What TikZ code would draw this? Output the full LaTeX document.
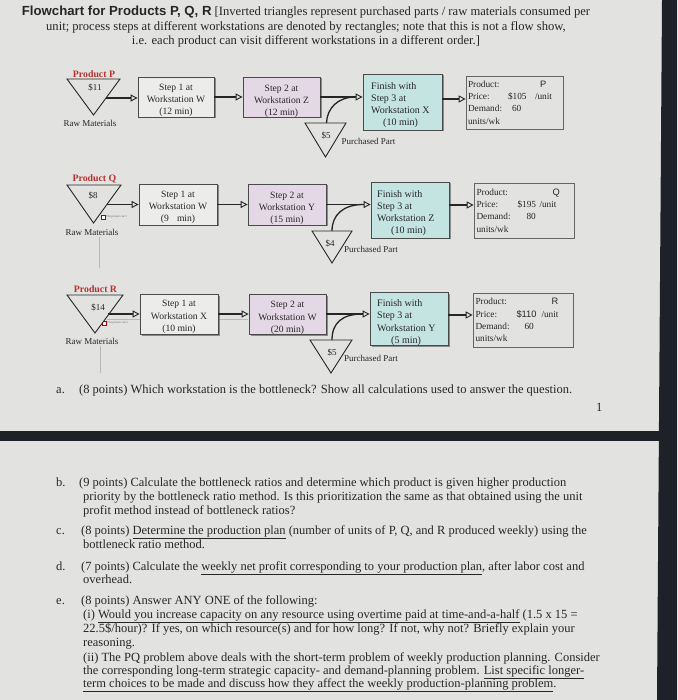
\documentclass[tikz,border=0pt]{standalone}
\usepackage{fontspec}
\setmainfont{Liberation Serif}
\newfontfamily\arialf{Liberation Sans}
\usetikzlibrary{arrows.meta,shadows,calc}
\definecolor{bg}{HTML}{E2E2E0}
\definecolor{edge}{HTML}{4A4A4A}
\definecolor{stepfill}{HTML}{ECECEA}
\definecolor{pinkfill}{HTML}{E5D8E6}
\definecolor{cyanfill}{HTML}{C4E4E2}
\definecolor{redlab}{HTML}{B8312F}
\definecolor{ink}{HTML}{262626}
\definecolor{darkband}{HTML}{1E2127}
\begin{document}
\begin{tikzpicture}[x=1pt,y=-1pt,
  wbox/.style={draw=edge, line width=0.8pt, inner sep=0pt,
    drop shadow={shadow xshift=1.5pt, shadow yshift=-1.5pt, fill=black!60, opacity=0.7}},
  stepbox/.style={wbox, fill=stepfill},
  steptwobox/.style={wbox, fill=pinkfill},
  finbox/.style={wbox, fill=cyanfill},
  prodbox/.style={draw=edge!85, line width=0.7pt, fill=bg, align=left, inner xsep=2pt,
    inner ysep=0pt, font=\fontsize{9.3}{12.3}\selectfont, text=ink},
  boxtext/.style={align=center, font=\fontsize{9.6}{12.3}\selectfont, text=ink, inner sep=0pt},
  fintext/.style={align=left, anchor=west, font=\fontsize{10}{12.2}\selectfont, text=ink, inner sep=0pt},
  tri/.style={draw=ink, line width=0.9pt, fill=bg, line join=miter},
  flow/.style={draw=ink, line width=1.6pt, -{Triangle[open, length=7pt, width=7pt, line width=0.9pt]}},
  curveline/.style={draw=ink, line width=1.3pt},
  smalltext/.style={font=\fontsize{9}{10}\selectfont, text=ink, inner sep=0pt},
  prodlab/.style={font=\bfseries\fontsize{9.8}{10}\selectfont, text=redlab, inner sep=0pt},
  qline/.style={anchor=base west, inner sep=0pt, font=\fontsize{12.5}{14}\selectfont, text=ink},
  tline/.style={anchor=base, inner sep=0pt, font=\fontsize{12.6}{14}\selectfont, text=ink},
  faint/.style={draw=black!28, line width=0.4pt},
  tiny/.style={font=\fontsize{3}{3}\selectfont, text=black!60, inner sep=0pt, anchor=west},
  icon/.style={draw=red!70!black, line width=0.3pt, fill=white, minimum size=3.5pt, inner sep=0pt},
]
% page and background
\fill[bg] (0,0) rectangle (677,700);
\useasboundingbox (0,0) rectangle (677,700);
\fill[darkband] (0,431) rectangle (661,441);
\fill[darkband] (662,0) -- (677,0) -- (677,700) -- (657,700) -- cycle;

% title
\node[tline] (title1) at (306,16)
  {{\arialf\bfseries\fontsize{13.2}{14}\selectfont Flowchart for Products P, Q, R} [Inverted triangles represent purchased parts / raw materials consumed per};
\node[tline] (title2) at (306,30.5)
  {unit; process steps at different workstations are denoted by rectangles; note that this is not a flow show,};
\node[tline] (title3) at (306,45)
  {i.e. each product can visit different workstations in a different order.]};

% faint artefacts
\draw[faint] (99,237) -- (99,268);
\draw[faint] (100,346) -- (100,373);
\draw[faint] (107,319) -- (248,319);
\node[icon] (icQ) at (103,217) {};
\node[tiny] (phQ) at (106,217) {The picture can't};
\node[icon] (icR) at (104,323) {};
\node[tiny] (phR) at (107,323) {The picture can't};

% ---------------- Product P ----------------
\node[prodlab] (labP) at (94,74) {Product P};
\draw[tri] (67,79) -- (120,79) -- (93.5,115) -- cycle;
\node[smalltext] (cP) at (95,88) {\$11};
\node[smalltext] (rmP) at (90,123) {Raw Materials};
\coordinate (oP) at (106,98);
\node[stepbox, minimum width=76pt, minimum height=40pt] (s1P) at (176,97) {};
\node[boxtext] (t1P) at (176,100.5) {Step 1 at\\Workstation W\\(12 min)};
\node[steptwobox, minimum width=77pt, minimum height=40pt] (s2P) at (281.5,97) {};
\node[boxtext] (t2P) at (281.5,101.5) {Step 2 at\\Workstation Z\\(12 min)};
\node[finbox, minimum width=79pt, minimum height=56pt] (fP) at (402.5,102) {};
\node[fintext] (tfP) at (371,105) {Finish with\\Step 3 at\\Workstation X\\\hspace*{12pt}(10 min)};
\node[prodbox, text width=93pt, minimum height=53pt] (pP) at (514.5,102.5)
  {\makebox[72pt][l]{Product:}{\arialf P}\\
   \makebox[40pt][l]{Price:}\makebox[27pt][l]{\$105}/unit\\
   \makebox[44pt][l]{Demand:}60\\
   units/wk};
\draw[tri] (305,123) -- (346,123) -- (325.5,157) -- cycle;
\coordinate (ppP) at (326.5,123);
\node[smalltext] (cpP) at (326,136) {\$5};
\node[smalltext] (ptP) at (368.5,141) {Purchased Part};
\draw[flow] (oP) -- (oP -| s1P.west);
\draw[flow] (s1P) -- (s2P);
\draw[flow] (s2P.east) -- (s2P.east -| fP.west);
\draw[curveline] (ppP) .. controls (327,108) and (338,97) .. ($(s2P.east -| fP.west)+(-7,0)$);
\draw[flow] ($(fP.east)+(0,-3)$) -- ($(fP.east -| pP.west)+(0,-3)$);

% ---------------- Product Q ----------------
\node[prodlab] (labQ) at (94.5,179) {Product Q};
\draw[tri] (67,185) -- (121,185) -- (93.5,223) -- cycle;
\node[smalltext] (cQ) at (93,196) {\$8};
\node[smalltext] (rmQ) at (92,232) {Raw Materials};
\coordinate (oQ) at (107,204.5);
\node[stepbox, minimum width=78pt, minimum height=41pt] (s1Q) at (178,204.5) {};
\node[boxtext] (t1Q) at (178,207.5) {Step 1 at\\Workstation W\\(9\hspace{0.6em} min)};
\node[steptwobox, minimum width=78pt, minimum height=41pt] (s2Q) at (287,204.5) {};
\node[boxtext] (t2Q) at (287,208.5) {Step 2 at\\Workstation Y\\(15 min)};
\node[finbox, minimum width=78pt, minimum height=56pt] (fQ) at (410,210) {};
\node[fintext] (tfQ) at (377,213) {Finish with\\Step 3 at\\Workstation Z\\\hspace*{14pt}(10 min)};
\node[prodbox, text width=95pt, inner xsep=2.5pt, minimum height=55pt] (pQ) at (524,210.5)
  {\makebox[76pt][l]{Product:}{\arialf Q}\\
   \makebox[41pt][l]{Price:}\makebox[22pt][l]{\$195}/unit\\
   \makebox[50pt][l]{Demand:}80\\
   units/wk};
\draw[tri] (312,231) -- (352,231) -- (332,263) -- cycle;
\coordinate (ppQ) at (332,231);
\node[smalltext] (cpQ) at (330,244) {\$4};
\node[smalltext] (ptQ) at (371,249) {Purchased Part};
\draw[flow] (oQ) -- (oQ -| s1Q.west);
\draw[flow] (s1Q) -- (s2Q);
\draw[flow] (s2Q.east) -- (s2Q.east -| fQ.west);
\draw[curveline] (ppQ) .. controls (332,215) and (343,204.5) .. ($(s2Q.east -| fQ.west)+(-7,0)$);
\draw[flow] ($(fQ.east)+(0,-5)$) -- ($(fQ.east -| pQ.west)+(0,-5)$);

% ---------------- Product R ----------------
\node[prodlab] (labR) at (95.5,289) {Product R};
\draw[tri] (67,295) -- (123,295) -- (95,333) -- cycle;
\node[smalltext] (cR) at (98,308) {\$14};
\node[smalltext] (rmR) at (92,341) {Raw Materials};
\coordinate (oR) at (108,314);
\node[stepbox, minimum width=78pt, minimum height=40pt] (s1R) at (179,314) {};
\node[boxtext] (t1R) at (179,317) {Step 1 at\\Workstation X\\(10 min)};
\node[steptwobox, minimum width=77pt, minimum height=40pt] (s2R) at (287.5,314) {};
\node[boxtext] (t2R) at (287.5,318) {Step 2 at\\Workstation W\\(20 min)};
\node[finbox, minimum width=78pt, minimum height=53pt] (fR) at (409,318.5) {};
\node[fintext] (tfR) at (377,322.5) {Finish with\\Step 3 at\\Workstation Y\\\hspace*{14pt}(5 min)};
\node[prodbox, text width=95pt, inner xsep=2.5pt, minimum height=54pt] (pR) at (523,320)
  {\makebox[76pt][l]{Product:}{\arialf R}\\
   \makebox[41pt][l]{Price:}\makebox[25pt][l]{\arialf\$110}/unit\\
   \makebox[49pt][l]{Demand:}60\\
   units/wk};
\draw[tri] (310,340) -- (352,340) -- (331,373) -- cycle;
\coordinate (ppR) at (332,340);
\node[smalltext] (cpR) at (332,353) {\$5};
\node[smalltext] (ptR) at (371,358) {Purchased Part};
\draw[flow] (oR) -- (oR -| s1R.west);
\draw[flow] (s1R) -- (s2R);
\draw[flow] (s2R.east) -- (s2R.east -| fR.west);
\draw[curveline] (ppR) .. controls (332,323) and (342,314) .. ($(s2R.east -| fR.west)+(-7,0)$);
\draw[flow] ($(fR.east)+(0,-3.5)$) -- ($(fR.east -| pR.west)+(0,-3.5)$);

% ---------------- Questions ----------------
\node[qline] (qa) at (56,393) {a.};
\node[qline] (qat) at (79,393) {(8 points) Which workstation is the bottleneck? Show all calculations used to answer the question.};
\node[qline] (pg) at (596,411) {1};

\node[qline] (qb) at (56,486) {b.};
\node[qline] (qb1) at (79,486) {(9 points) Calculate the bottleneck ratios and determine which product is given higher production};
\node[qline] (qb2) at (83,500) {priority by the bottleneck ratio method. Is this prioritization the same as that obtained using the unit};
\node[qline] (qb3) at (83,514) {profit method instead of bottleneck ratios?};

\node[qline] (qc) at (56,534) {c.};
\node[qline] (qc1) at (81,534) {(8 points) \underline{Determine the production plan} (number of units of P, Q, and R produced weekly) using the};
\node[qline] (qc2) at (83,548) {bottleneck ratio method.};

\node[qline] (qd) at (56,570) {d.};
\node[qline] (qd1) at (81,570) {(7 points) Calculate the \underline{weekly net profit corresponding to your production plan}, after labor cost and};
\node[qline] (qd2) at (83,583) {overhead.};

\node[qline] (qe) at (56,604) {e.};
\node[qline] (qe1) at (81,604) {(8 points) Answer ANY ONE of the following:};
\node[qline] (qe2) at (83,618) {(i) \underline{Would you increase capacity on any resource using overtime paid at time-and-a-half} (1.5 x 15 =};
\node[qline] (qe3) at (83,632) {22.5\$/hour)? If yes, on which resource(s) and for how long? If not, why not? Briefly explain your};
\node[qline] (qe4) at (83,646) {reasoning.};
\node[qline] (qe5) at (83,661) {(ii) The PQ problem above deals with the short-term problem of weekly production planning. Consider};
\node[qline] (qe6) at (83,674) {the corresponding long-term strategic capacity- and demand-planning problem. \underline{List specific longer-}};
\node[qline] (qe7) at (83,687) {\underline{term choices to be made and discuss how they affect the weekly production-planning problem}.};
\end{tikzpicture}
\end{document}
